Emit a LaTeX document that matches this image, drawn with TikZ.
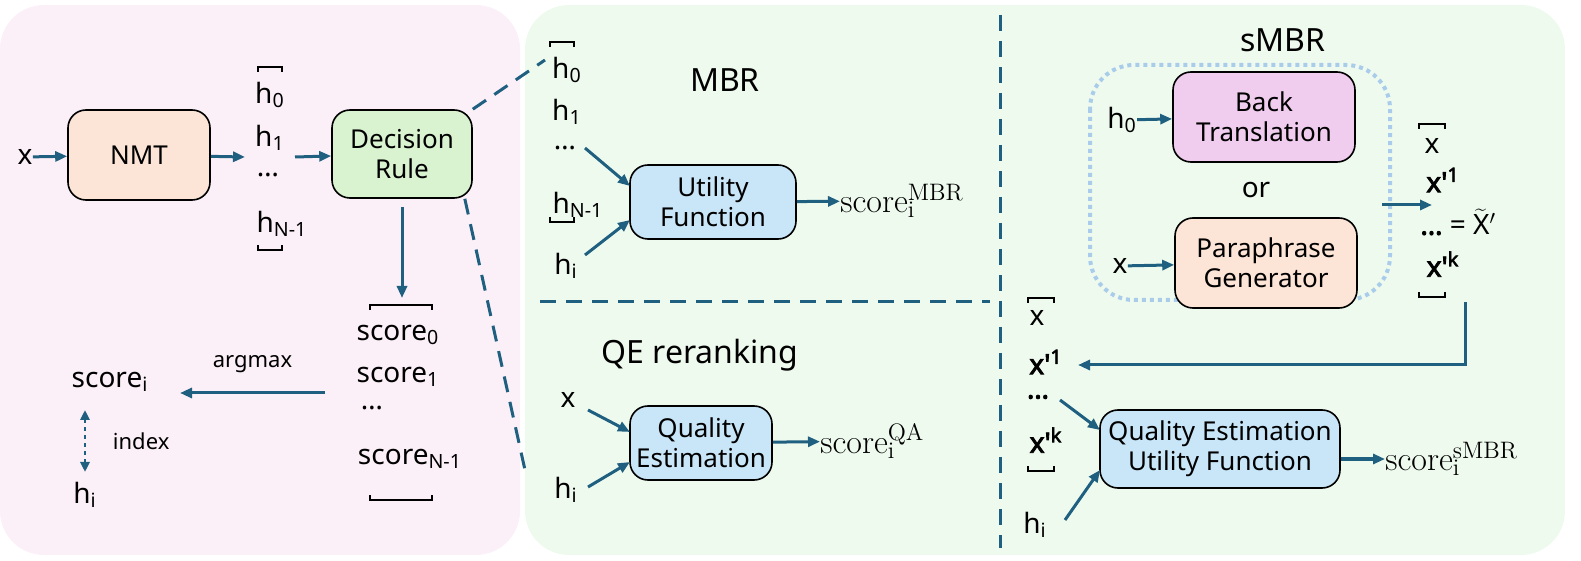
\documentclass[tikz,border=0pt]{standalone}
\usepackage{fontspec}
\setmainfont{Noto Sans}
\newfontfamily\ser{Latin Modern Roman}
\newfontfamily\bfx{Noto Sans}[FakeBold=3]
\usetikzlibrary{arrows.meta}
\definecolor{ac}{HTML}{1F5F80}
\definecolor{pinkbg}{HTML}{FCF0F8}
\definecolor{greenbg}{HTML}{EFFAEE}
\definecolor{peach}{HTML}{FCE4D6}
\definecolor{lgreen}{HTML}{D9F2D0}
\definecolor{lblue}{HTML}{C9E6F8}
\definecolor{lmag}{HTML}{F0CCEE}
\definecolor{dotc}{HTML}{A9CCEB}
\newcommand{\sbs}[1]{\textsubscript{#1}}
\newcommand{\sps}[1]{\textsuperscript{#1}}
\newcommand{\scr}[1]{{\ser\fontsize{17}{19}\selectfont score\rlap{\textsubscript{i}}\textsuperscript{#1}}}
\begin{document}
\begin{tikzpicture}[x=0.5pt,y=-0.5pt,
  box/.style={draw=black,line width=0.8pt,rounded corners=9pt,align=center,inner sep=0pt,font=\fontsize{13}{15}\selectfont},
  t/.style={inner sep=0pt,font=\fontsize{14}{16}\selectfont},
  arr/.style={draw=ac,line width=1.5pt,-{Triangle[length=6pt,width=5pt]}},
  dsh/.style={draw=ac,line width=1.5pt,dash pattern=on 8pt off 5pt},
  br/.style={draw=black,line width=1.2pt}]
\useasboundingbox (0,0) rectangle (1581,561);
\fill[pinkbg,rounded corners=22pt] (0,5) rectangle (520,555);
\fill[greenbg,rounded corners=22pt] (525,5) rectangle (1565,555);
% left panel
\node[box,fill=peach,minimum width=71pt,minimum height=45pt] (nmt) at (139,155) {NMT};
\node[t] (x0) at (25,157) {x};
\draw[arr] (x0) -- (nmt);
\node[t] (h0) at (270,95) {h\sbs{0}};
\node[t] (h1) at (270,138) {h\sbs{1}};
\node[t] (hd) at (268,175) {\dots};
\node[t] (hn) at (282,224) {h\sbs{N-1}};
\draw[br] (258,72) -- (258,67) -- (282,67) -- (282,72);
\draw[br] (258,245) -- (258,250) -- (282,250) -- (282,245);
\coordinate (ha) at (245,157);
\coordinate (hb) at (295,157);
\draw[arr] (nmt) -- (ha);
\node[box,fill=lgreen,minimum width=70pt,minimum height=44pt] (dr) at (402,154) {Decision\\Rule};
\draw[arr] (hb) -- (dr);
\coordinate (sc) at (402,298);
\draw[arr] (dr.south) ++(0,8) -- (sc);
\node[t] (s0) at (398,335) {score\sbs{0}};
\node[t] (s1) at (398,377) {score\sbs{1}};
\node[t] (sd) at (372,408) {\dots};
\node[t] (sn) at (410,459) {score\sbs{N-1}};
\draw[br] (370,310) -- (370,305) -- (432,305) -- (432,310);
\draw[br] (370,495) -- (370,500) -- (432,500) -- (432,495);
\node[t] (si) at (110,382) {score\sbs{i}};
\coordinate (am) at (325,393);
\draw[arr] (am) -- (180,393) node[midway,above=6pt,font=\fontsize{11}{13}\selectfont] {argmax};
\node[t] (hi0) at (85,495) {h\sbs{i}};
\draw[draw=ac,line width=1.3pt,dash pattern=on 2pt off 2pt,{Triangle[length=5pt,width=4.5pt]}-{Triangle[length=5pt,width=4.5pt]}] (85,410) -- (85,472) node[midway,right=10pt,font=\fontsize{11}{13}\selectfont] {index};
% dashed connectors
\draw[dsh] (dr.north east) -- (545,60);
\draw[dsh] (dr.south east) ++(-8,0) -- (525,470);
\draw[dsh] (540,302) -- (990,302);
\draw[dsh] (1000,15) -- (1000,548);
% MBR
\node[t,font=\fontsize{16}{18}\selectfont] at (725,80) {MBR};
\node[t] (m0) at (567,70) {h\sbs{0}};
\node[t] (m1) at (567,112) {h\sbs{1}};
\node[t] (md) at (565,148) {\dots};
\node[t] (mn) at (578,205) {h\sbs{N-1}};
\draw[br] (550,47) -- (550,42) -- (574,42) -- (574,47);
\draw[br] (550,217) -- (550,222) -- (574,222) -- (574,217);
\node[t] (mi) at (566,266) {h\sbs{i}};
\node[box,fill=lblue,minimum width=83pt,minimum height=37pt] (uf) at (713,202) {Utility\\Function};
\coordinate (ma) at (585,148); \coordinate (mb) at (585,255);
\draw[arr] (ma) -- (630,186);
\draw[arr] (mb) -- (630,220);
\node[t,anchor=west] (smbr) at (840,201) {\scr{MBR}};
\draw[arr] (uf) -- (smbr);
% QE
\node[t,font=\fontsize{16}{18}\selectfont] at (700,355) {QE reranking};
\node[t] (qx) at (568,400) {x};
\node[t] (qh) at (566,490) {h\sbs{i}};
\coordinate (qa) at (588,410); \coordinate (qb) at (588,487);
\node[box,fill=lblue,minimum width=71pt,minimum height=37pt] (qe) at (701,443) {Quality\\Estimation};
\draw[arr] (qa) -- (630,432);
\draw[arr] (qb) -- (630,462);
\node[t,anchor=west] (sqa) at (820,441) {\scr{QA}};
\draw[arr] (qe) -- (sqa);
% sMBR
\node[t,font=\fontsize{16}{18}\selectfont] at (1283,40) {sMBR};
\draw[dotc,line width=2pt,dash pattern=on 2pt off 2pt,rounded corners=22pt] (1090,65) rectangle (1390,300);
\node[box,fill=lmag,minimum width=91pt,minimum height=45pt] (bt) at (1264,117) {Back\\Translation};
\node[box,fill=peach,minimum width=91pt,minimum height=45pt] (pg) at (1266,263) {Paraphrase\\Generator};
\node[t] at (1256,190) {or};
\node[t] (bh) at (1122,120) {h\sbs{0}};
\node[t] (bx) at (1120,266) {x};
\draw[arr] (bh) -- (bt);
\draw[arr] (bx) -- (pg);
\node[t] (rx) at (1432,146) {x};
\node[t] (r1) at (1443,180) {\bfx x'\sps{1}};
\node[t,anchor=west] (rd) at (1420,222) {{\bfx \dots} = $\widetilde{\mathrm{X}}'$};
\node[t] (rk) at (1443,264) {\bfx x'\sps{k}};
\draw[br] (1419,129) -- (1419,124) -- (1445,124) -- (1445,129);
\draw[br] (1419,292) -- (1419,297) -- (1445,297) -- (1445,292);
\coordinate (ra) at (1432,205);
\draw[arr] (1382,205) -- (ra);
\node[t] (lx) at (1037,318) {x};
\node[t] (l1) at (1046,362) {\bfx x'\sps{1}};
\node[t] (ld) at (1038,397) {\bfx\dots};
\node[t] (lk) at (1046,440) {\bfx x'\sps{k}};
\draw[br] (1028,303) -- (1028,298) -- (1054,298) -- (1054,303);
\draw[br] (1028,466) -- (1028,471) -- (1054,471) -- (1054,466);
\coordinate (lr) at (1078,365);
\draw[arr] (1465,302) -- (1465,365) -- (lr);
\node[t] (lh) at (1035,525) {h\sbs{i}};
\node[box,fill=lblue,minimum width=120pt,minimum height=39pt] (qu) at (1220,449) {Quality Estimation\\Utility Function};
\coordinate (la) at (1060,400); \coordinate (lb) at (1065,520);
\draw[arr] (la) -- (1100,430);
\draw[arr] (lb) -- (1100,470);
\node[t,anchor=west] (ss) at (1385,459) {\scr{sMBR}};
\draw[arr] (qu.east |- ss.west) -- (ss);
\end{tikzpicture}
\end{document}
